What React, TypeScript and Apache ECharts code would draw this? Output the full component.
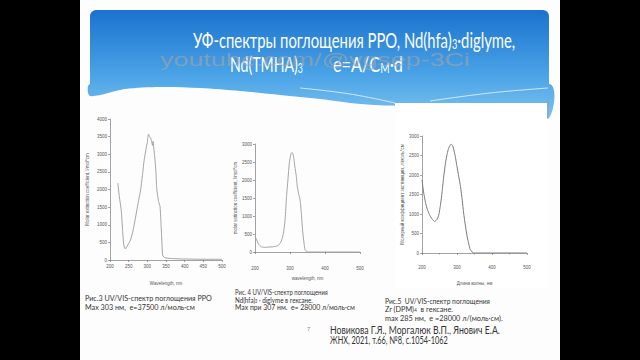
import React, { useEffect, useRef } from "react";
import * as echarts from "echarts";

// Рис.3 PPO
const ppoWavelength = [221, 225, 230, 234, 237, 241, 245, 250, 255, 262, 268, 275, 282, 288, 291, 297, 300, 303, 306, 309, 311, 314, 315, 317, 320, 323, 325, 328, 330, 334, 337, 339, 341, 345, 355, 370, 391, 420, 460, 500];
const ppoEps = [2180, 1800, 1420, 805, 427, 313, 379, 470, 569, 850, 1185, 1600, 1990, 2500, 2800, 3175, 3350, 3570, 3500, 3460, 3365, 3250, 3365, 3200, 2900, 2500, 2050, 1800, 1660, 1515, 950, 500, 140, 75, 50, 40, 30, 25, 20, 20];
// Рис.4 Nd(hfa)3·diglyme
const ndWavelength = [200, 205, 210, 219, 230, 243, 255, 267, 275, 281, 286, 290, 294, 298, 302, 305, 308, 311, 314, 318, 321, 325, 329, 333, 336, 340, 343, 347, 352, 400, 500];
const ndEps = [437, 330, 220, 140, 130, 140, 150, 186, 300, 511, 900, 1533, 2000, 2463, 2700, 2760, 2740, 2600, 2370, 2100, 1812, 1600, 1440, 1000, 604, 250, 65, 20, 0, 0, 0];
// Рис.5 Zr(DPM)4
const zrWavelength = [200, 205, 210, 214, 219, 224, 230, 236, 242, 248, 253, 257, 262, 267, 272, 276, 280, 284, 287, 290, 295, 300, 305, 310, 315, 319, 324, 329, 334, 338, 343, 348, 400, 500];
const zrEps = [1874, 1533, 1300, 1150, 1030, 937, 860, 809, 850, 980, 1250, 1533, 1950, 2300, 2550, 2683, 2760, 2785, 2760, 2683, 2480, 2215, 1960, 1704, 1350, 1022, 700, 426, 220, 85, 30, 0, 0, 0];

const axisNames = {
  x1: "Wavelength, nm",
  y1: "Molar extinction coefficient, l/mol*cm",
  x2: "wavelength, nm",
  y2: "molar extinction coefficient, l/mol*cm",
  x3: "Длина волны, нм",
  y3: "Молярный коэффициент экстинкции, л/моль*см",
};

const FONT = "Lato";

type Seg = { t: string; sub?: boolean };

let measureCtx: CanvasRenderingContext2D | null = null;
function measure(text: string, size: number, family: string, weight = "normal") {
  if (!measureCtx) measureCtx = document.createElement("canvas").getContext("2d");
  measureCtx!.font = `${weight} ${size}px ${family}`;
  return measureCtx!.measureText(text).width;
}

function fitText(
  segs: Seg[],
  x: number,
  y: number,
  width: number,
  size: number,
  color: string,
  family = FONT,
  extra: any = {},
  z = 20
) {
  const subSize = size * 0.62;
  const w = segs.reduce((a, s) => a + measure(s.t, s.sub ? subSize : size, family), 0);
  const sx = width / w;
  const text = segs.map((s) => `{${s.sub ? "s" : "m"}|${s.t}}`).join("");
  return {
    type: "text",
    x,
    y,
    scaleX: sx,
    z,
    style: {
      text,
      align: "left",
      verticalAlign: "middle",
      rich: {
        m: { fontSize: size, fontFamily: family, fill: color, lineHeight: size * 1.2, verticalAlign: "bottom", ...extra },
        s: { fontSize: subSize, fontFamily: family, fill: color, lineHeight: subSize, verticalAlign: "bottom", ...extra },
      },
    },
  };
}

function pairs(xs: number[], ys: number[]) {
  return xs.map((x, i) => [x, ys[i]]);
}

const axisLine = { show: true, lineStyle: { color: "#666", width: 0.6 } };
const axisTick = { show: true, length: 2, lineStyle: { color: "#666", width: 0.6 } };
const label = (margin: number) => ({
  fontSize: 4.5,
  color: "#555",
  margin,
  fontFamily: "Liberation Sans",
  formatter: (v: number) => String(v),
});
const nameStyle = { fontSize: 4.5, color: "#555", fontFamily: "Liberation Sans" };

export default function App() {
  const ref = useRef<HTMLDivElement>(null);
  useEffect(() => {
    if (!ref.current) return;
    const chart = echarts.init(ref.current, undefined, { renderer: "svg" });
    const headerFill = new echarts.graphic.LinearGradient(
      0, 10, 0, 118,
      [
        { offset: 0, color: "#1b72cf" },
        { offset: 0.6, color: "#4aa3e6" },
        { offset: 1, color: "#7cc2f0" },
      ],
      true
    );
    const graphic: any[] = [
      { type: "rect", z: -10, shape: { x: 80, y: 0, width: 480, height: 360 }, style: { fill: "#fdfdfd" } },
      { type: "rect", z: -9, shape: { x: 90, y: 10, width: 459, height: 76, r: [6, 6, 0, 0] }, style: { fill: headerFill } },
      {
        type: "polygon",
        z: -9,
        shape: {
          smooth: 0.3,
          points: [
            [90, 84], [549, 84], [549, 118], [520, 114], [480, 110], [440, 107], [400, 106], [360, 104],
            [320, 99], [280, 95], [240, 91], [200, 88], [160, 87], [125, 89], [90, 96],
          ],
        },
        style: { fill: headerFill },
      },
      {
        type: "polyline",
        z: -8,
        shape: { smooth: 0.4, points: [[300, 88], [350, 94], [395, 103]] },
        style: { stroke: "rgba(255,255,255,0.7)", lineWidth: 1, fill: "none" },
      },
      {
        type: "polyline",
        z: -8,
        shape: { smooth: 0.4, points: [[430, 101], [490, 93], [548, 88]] },
        style: { stroke: "rgba(255,255,255,0.7)", lineWidth: 1, fill: "none" },
      },
      { type: "rect", z: -7, shape: { x: 395, y: 103, width: 152, height: 185 }, style: { fill: "#ffffff" } },
      { type: "line", z: -7, shape: { x1: 548, y1: 100, x2: 548, y2: 118 }, style: { stroke: "#999", lineWidth: 0.8 } },
      // title
      fitText([{ t: "УФ-спектры поглощения PPO, Nd(hfa)" }, { t: "3", sub: true }, { t: "·diglyme," }], 193, 38, 322, 21, "#ffffff"),
      fitText([{ t: "Nd(TMHA)" }, { t: "3", sub: true }], 230, 62, 73, 21, "#ffffff"),
      fitText([{ t: "e=A/C" }, { t: "M", sub: true }, { t: "·d" }], 333, 62, 70, 21, "#ffffff"),
      // watermark
      fitText(
        [{ t: "youtube.com/@vgsep-3Ci" }],
        160, 58, 310, 18, "rgba(165,165,165,0.6)", "Liberation Sans", {}, 21
      ),
      // captions
      fitText([{ t: "Рис.3 UV/VIS-спектр поглощения PPO" }], 85, 298, 127, 8, "#333"),
      fitText([{ t: "Max 303 нм,  e=37500 л/моль·см" }], 85, 306.5, 110, 8, "#333"),
      fitText([{ t: "Рис. 4 UV/VIS-спектр поглощения" }], 235, 291, 93, 8, "#333"),
      fitText([{ t: "Nd(hfa)" }, { t: "3", sub: true }, { t: " · diglyme в гексане." }], 235, 299, 78, 8, "#333"),
      fitText([{ t: "Max при 307 нм.  e= 28000 л/моль·см" }], 235, 307, 120, 8, "#333"),
      fitText([{ t: "Рис.5  UV/VIS-спектр поглощения" }], 385, 300, 105, 8, "#333"),
      fitText([{ t: "Zr (DPM)" }, { t: "4", sub: true }, { t: "  в гексане." }], 385, 308, 68, 8, "#333"),
      fitText([{ t: "max 285 нм,  e =28000 л/(моль·см)." }], 385, 317, 118, 8, "#333"),
      fitText([{ t: "Новикова Г.Я., Моргалюк В.П., Янович Е.А." }], 330, 328, 170, 11, "#333"),
      fitText([{ t: "ЖНХ, 2021, т.66, №8, с.1054-1062" }], 330, 339, 118, 11, "#333"),
      {
        type: "text",
        x: 307,
        y: 329,
        z: 20,
        style: { text: "7", font: "6px Liberation Sans", fill: "#888", align: "left", verticalAlign: "middle" },
      },
    ];

    chart.setOption({
      animation: false,
      backgroundColor: "#000000",
      grid: [
        { left: 110, top: 119, width: 112, height: 141 },
        { left: 255, top: 144, width: 105, height: 108 },
        { left: 422, top: 136, width: 105, height: 117 },
      ],
      xAxis: [
        {
          gridIndex: 0, type: "value", min: 200, max: 500, interval: 50,
          axisLine, axisTick, axisLabel: label(4), splitLine: { show: false },
          name: axisNames.x1, nameLocation: "middle", nameGap: 21, nameTextStyle: nameStyle,
        },
        {
          gridIndex: 1, type: "value", min: 200, max: 500, interval: 100, offset: 10,
          axisLine, axisTick, axisLabel: label(4), splitLine: { show: false },
          name: axisNames.x2, nameLocation: "middle", nameGap: 14, nameTextStyle: nameStyle,
        },
        {
          gridIndex: 2, type: "value", min: 200, max: 500, interval: 100,
          axisLine, axisTick, axisLabel: label(12), splitLine: { show: false },
          minorTick: { show: true, splitNumber: 2, length: 1.5, lineStyle: { color: "#666", width: 0.5 } },
          name: axisNames.x3, nameLocation: "middle", nameGap: 28, nameTextStyle: nameStyle,
        },
      ],
      yAxis: [
        {
          gridIndex: 0, type: "value", min: 0, max: 4000, interval: 500,
          axisLine, axisTick, axisLabel: label(3), splitLine: { show: false },
          name: axisNames.y1, nameLocation: "middle", nameGap: 20, nameRotate: 90, nameTextStyle: nameStyle,
        },
        {
          gridIndex: 1, type: "value", min: 0, max: 3000, interval: 500,
          axisLine, axisTick, axisLabel: label(3), splitLine: { show: false },
          name: axisNames.y2, nameLocation: "middle", nameGap: 17, nameRotate: 90, nameTextStyle: nameStyle,
        },
        {
          gridIndex: 2, type: "value", min: 0, max: 3000, interval: 500,
          axisLine, axisTick, axisLabel: label(3), splitLine: { show: false },
          name: axisNames.y3, nameLocation: "middle", nameGap: 16, nameRotate: 90, nameTextStyle: nameStyle,
        },
      ],
      series: [
        {
          type: "line", xAxisIndex: 0, yAxisIndex: 0, data: pairs(ppoWavelength, ppoEps),
          showSymbol: false, smooth: 0.2, lineStyle: { color: "#9a9a9a", width: 0.9 },
        },
        {
          type: "line", xAxisIndex: 1, yAxisIndex: 1, data: pairs(ndWavelength, ndEps),
          showSymbol: false, smooth: 0.2, lineStyle: { color: "#9a9a9a", width: 0.9 },
        },
        {
          type: "line", xAxisIndex: 2, yAxisIndex: 2, data: pairs(zrWavelength, zrEps),
          showSymbol: false, smooth: 0.2, lineStyle: { color: "#7a7a7a", width: 1 },
        },
      ],
      graphic,
    });
    return () => chart.dispose();
  }, []);
  return <div ref={ref} style={{ position: "absolute", left: 0, top: 0, width: 640, height: 360 }} />;
}
